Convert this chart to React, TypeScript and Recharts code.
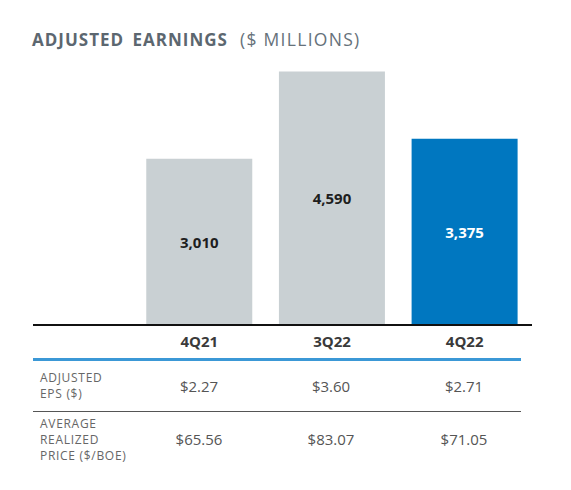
import React from "react";
import { BarChart, Bar, Cell, XAxis, YAxis, LabelList } from "recharts";

const quarters = ["4Q21", "3Q22", "4Q22"];
const earnings = [3010, 4590, 3375];
const eps = ["$2.27", "$3.60", "$2.71"];
const realizedPrice = ["$65.56", "$83.07", "$71.05"];
const highlight = [false, false, true];

const GRAY_BAR = "#c9d0d3";
const BLUE_BAR = "#0077c0";
const FONT = "'Open Sans', 'Noto Sans', sans-serif";

const data = quarters.map((q, i) => ({ quarter: q, value: earnings[i] }));

// table columns line up with the bar centres
const COL_X = [199, 331, 464];

function QuarterTick(props: any) {
  const { x, y, payload } = props;
  return (
    <text
      x={x}
      y={y + 8}
      textAnchor="middle"
      dominantBaseline="central"
      fontFamily={FONT}
      fontSize={15}
      fontWeight={700}
      fill="#3a3a3a"
    >
      {payload.value}
    </text>
  );
}

function BarValue(props: any) {
  const { x, y, width, height, value, index } = props;
  return (
    <text
      x={x + width / 2}
      y={y + height / 2}
      textAnchor="middle"
      dominantBaseline="central"
      fontFamily={FONT}
      fontSize={15}
      fontWeight={700}
      fill={highlight[index] ? "#ffffff" : "#1e1e1e"}
    >
      {Number(value).toLocaleString("en-US")}
    </text>
  );
}

const rowLabel: React.CSSProperties = {
  position: "absolute",
  left: 40,
  fontSize: 12,
  letterSpacing: 0.7,
  lineHeight: "16px",
  color: "#666",
};

const cell: React.CSSProperties = {
  position: "absolute",
  width: 120,
  marginLeft: -60,
  textAlign: "center",
  fontSize: 15,
  color: "#555",
  lineHeight: "20px",
};

export default function App() {
  return (
    <div
      style={{
        position: "absolute",
        left: 0,
        top: 0,
        width: 571,
        height: 490,
        background: "#fff",
        fontFamily: FONT,
      }}
    >
      <div
        style={{
          position: "absolute",
          left: 32,
          top: 27,
          fontSize: 17,
          color: "#5c6770",
          whiteSpace: "nowrap",
          letterSpacing: 1,
        }}
      >
        <span style={{ fontWeight: 700, wordSpacing: 3 }}>ADJUSTED EARNINGS</span>
        <span style={{ marginLeft: 12, fontSize: 17.5, letterSpacing: 1.3, color: "#66717a" }}>
          ($ MILLIONS)
        </span>
      </div>

      <BarChart
        width={571}
        height={490}
        data={data}
        margin={{ top: 60, right: 40, bottom: 135, left: 133 }}
        barCategoryGap="10%"
      >
        <XAxis
          dataKey="quarter"
          axisLine={false}
          tickLine={false}
          height={30}
          tick={<QuarterTick />}
        />
        <YAxis hide domain={[0, 4800]} />
        <Bar dataKey="value" isAnimationActive={false}>
          {data.map((d, i) => (
            <Cell key={d.quarter} fill={highlight[i] ? BLUE_BAR : GRAY_BAR} />
          ))}
          <LabelList dataKey="value" content={<BarValue />} />
        </Bar>
      </BarChart>

      {/* baseline and table rules */}
      <div style={{ position: "absolute", left: 33, top: 324, width: 499, height: 2, background: "#111" }} />
      <div style={{ position: "absolute", left: 33, top: 358, width: 488, height: 3, background: "#3b98d6" }} />
      <div style={{ position: "absolute", left: 33, top: 411, width: 488, height: 1, background: "#555" }} />

      <div style={{ ...rowLabel, top: 370 }}>
        ADJUSTED
        <br />
        EPS ($)
      </div>
      {eps.map((v, i) => (
        <div key={"eps" + i} style={{ ...cell, left: COL_X[i], top: 376 }}>
          {v}
        </div>
      ))}

      <div style={{ ...rowLabel, top: 416 }}>
        AVERAGE
        <br />
        REALIZED
        <br />
        PRICE ($/BOE)
      </div>
      {realizedPrice.map((v, i) => (
        <div key={"arp" + i} style={{ ...cell, left: COL_X[i], top: 429 }}>
          {v}
        </div>
      ))}
    </div>
  );
}
